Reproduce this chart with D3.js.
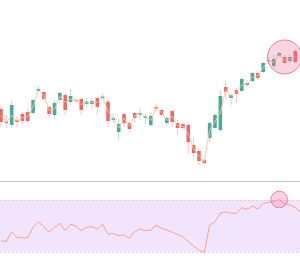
<!DOCTYPE html>
<html>
<head>
<meta charset="utf-8">
<script src="https://cdn.jsdelivr.net/npm/d3@7"></script>
<style>
  body { margin: 0; background: #fff; }
  svg { display: block; }
</style>
</head>
<body>
<div id="chart"></div>
<script>
// candle data (index order)
var opens  = [95.5, 89.2, 87.5, 90, 93, 94, 93.5, 104.5, 104, 96.5, 92.5, 100, 102.5, 99, 100, 100.5, 98, 98, 101, 100.9,
              99.2, 90, 84, 93, 88.5, 93.5, 92.5, 91, 87.5, 96.5, 95, 88.5, 94.5, 88.5, 88, 87.5, 77.5, 74.5, 70, 81,
              86, 85, 106.5, 101, 105, 104.5, 107.5, 109.5, 113.5, 114, 119.5, 117, 122, 121.5, 119.5, 124.5];
var highs  = [97, 92.5, 100, 91.5, 94, 95.5, 101, 107, 105, 97.5, 100, 104, 103.5, 105.5, 101, 101.5, 101, 101, 101.5, 103.5,
              100, 93.5, 90.5, 93.5, 89, 94, 96, 93, 92.5, 98, 96, 92, 95, 90, 89, 89, 81, 76, 71, 89,
              93.5, 105, 110, 103.5, 106, 111, 110, 114, 114.5, 119, 121, 122.5, 124, 122.5, 123, 125.5];
var lows   = [86.5, 86, 86, 86.5, 88, 88.5, 92.5, 104, 99.5, 92, 90.5, 99, 92.5, 97.5, 98.5, 92.5, 96.5, 95, 92.5, 100.5,
              86.5, 88.5, 80, 86.5, 84, 89, 90, 88, 86.5, 94, 92, 87, 86.5, 82.5, 85, 73, 71.5, 67.5, 68, 79,
              85.5, 84, 100, 97.5, 98.5, 104, 106.5, 109, 110, 113.5, 118, 116, 121.5, 117.5, 118.5, 118.5];
var closes = [89, 88.4, 97.5, 89, 89.5, 89.5, 100, 105.5, 100.5, 93, 98.5, 103.5, 95, 102, 99.5, 95, 99.2, 99.5, 96.5, 101.7,
              89.5, 91, 88, 88.5, 85.5, 91, 93.5, 91.8, 92, 95.8, 92.5, 91, 89, 86, 86, 79, 73.5, 69.5, 68.5, 88.5,
              92.5, 102, 104, 102.5, 103, 110.5, 108.5, 113.5, 111, 118.5, 120, 120.5, 123.5, 118.5, 121.5, 119];
// orange trend line
var trend  = [92.2, 88.8, 92.5, 89.5, 91.2, 91.8, 96.8, 105, 102.2, 94.8, 95.5, 101.8, 98.8, 100.5, 99.8, 97.8, 98.6, 98.8, 98.8, 101.3,
              94.3, 90.5, 86, 90.8, 87, 92.2, 93, 91.4, 89.8, 96.1, 93.8, 89.8, 91.8, 87.2, 87, 83.2, 75.5, 72, 69.2, 84.8,
              89.2, 93.5, 105.2, 101.8, 104, 107.5, 108, 111.5, 112.2, 116.2, 119.8, 118.8, 122.8, 120, 120.5, 121.8];
// RSI
var rsi    = [38.7, 37.9, 45.6, 41, 41, 41, 49, 53.3, 49.5, 45.2, 49, 52.1, 46.4, 51.3, 50, 46.4, 49, 49.5, 47.5, 51.5,
              43.6, 44.4, 42.5, 43.1, 40.5, 45.6, 47.7, 46.4, 46.9, 50.8, 48.2, 46.9, 45.2, 43.6, 41.8, 37.9, 34.6, 31.5, 29.5, 50.8,
              53.3, 59.8, 61, 59.8, 59.8, 64.1, 62.8, 65.4, 63.1, 67.3, 68.2, 68.7, 70.4, 66.9, 66.2, 64.2, 60.4];
var rsiBands = [30, 70];
var markCandle = 53, markPrice = 121.5;
var markRsi = 52;

var W = 300, H = 258;
var svg = d3.select("#chart").append("svg")
    .attr("width", W)
    .attr("height", H);

var x = d3.scaleLinear().domain([0, 56]).range([1, 300.6]);
var y = d3.scaleLinear().domain([65, 150]).range([170, 0]);
var yR = d3.scaleLinear().domain([30, 70]).range([252, 200]);

var up = "#35a394", down = "#ec5b5b";
var bw = 3.6;

var candles = d3.range(opens.length).map(function(i) {
  return {i: i, o: opens[i], h: highs[i], l: lows[i], c: closes[i]};
});

var g = svg.append("g");
g.selectAll("line.wick")
  .data(candles)
  .enter().append("line")
  .attr("class", "wick")
  .attr("x1", function(d) { return x(d.i); })
  .attr("x2", function(d) { return x(d.i); })
  .attr("y1", function(d) { return y(d.h); })
  .attr("y2", function(d) { return y(d.l); })
  .attr("stroke", function(d) { return d.c >= d.o ? up : down; })
  .attr("stroke-opacity", 0.35)
  .attr("stroke-width", 1);

g.selectAll("rect.body")
  .data(candles)
  .enter().append("rect")
  .attr("class", "body")
  .attr("x", function(d) { return x(d.i) - bw / 2; })
  .attr("width", bw)
  .attr("y", function(d) { return y(Math.max(d.o, d.c)); })
  .attr("height", function(d) { return Math.max(1, Math.abs(y(d.o) - y(d.c))); })
  .attr("fill", function(d) { return d.c >= d.o ? up : down; })
  .attr("fill-opacity", 0.9);

// trend line
svg.append("path")
  .datum(trend)
  .attr("fill", "none")
  .attr("stroke", "#f9c48f")
  .attr("stroke-width", 1)
  .attr("stroke-opacity", 0.9)
  .attr("d", d3.line().x(function(d, i) { return x(i); }).y(function(d) { return y(d); }));

// highlight
svg.append("circle")
  .attr("cx", x(markCandle))
  .attr("cy", y(markPrice))
  .attr("r", 17)
  .attr("fill", "#ee6f9a")
  .attr("fill-opacity", 0.3)
  .attr("stroke", "#ec7fa6")
  .attr("stroke-width", 1);

// separator
svg.append("line")
  .attr("x1", 0).attr("x2", W)
  .attr("y1", 181.5).attr("y2", 181.5)
  .attr("stroke", "#c8c8c8")
  .attr("stroke-width", 1);

// rsi band
svg.append("rect")
  .attr("x", 0).attr("width", W)
  .attr("y", yR(rsiBands[1]))
  .attr("height", yR(rsiBands[0]) - yR(rsiBands[1]))
  .attr("fill", "#f3e4fd");

svg.selectAll("line.band")
  .data(rsiBands)
  .enter().append("line")
  .attr("class", "band")
  .attr("x1", 0).attr("x2", W)
  .attr("y1", function(d) { return yR(d) + 0.5; })
  .attr("y2", function(d) { return yR(d) + 0.5; })
  .attr("stroke", "#e2cdf0")
  .attr("stroke-dasharray", "2,2")
  .attr("stroke-width", 1);

svg.append("path")
  .datum(rsi)
  .attr("fill", "none")
  .attr("stroke", "#f4a88a")
  .attr("stroke-width", 1)
  .attr("d", d3.line().x(function(d, i) { return x(i); }).y(function(d) { return yR(d); }));

svg.append("circle")
  .attr("cx", x(markRsi))
  .attr("cy", yR(rsi[markRsi]))
  .attr("r", 8.3)
  .attr("fill", "#ee6f9a")
  .attr("fill-opacity", 0.3)
  .attr("stroke", "#ec7fa6")
  .attr("stroke-width", 1);
</script>
</body>
</html>
